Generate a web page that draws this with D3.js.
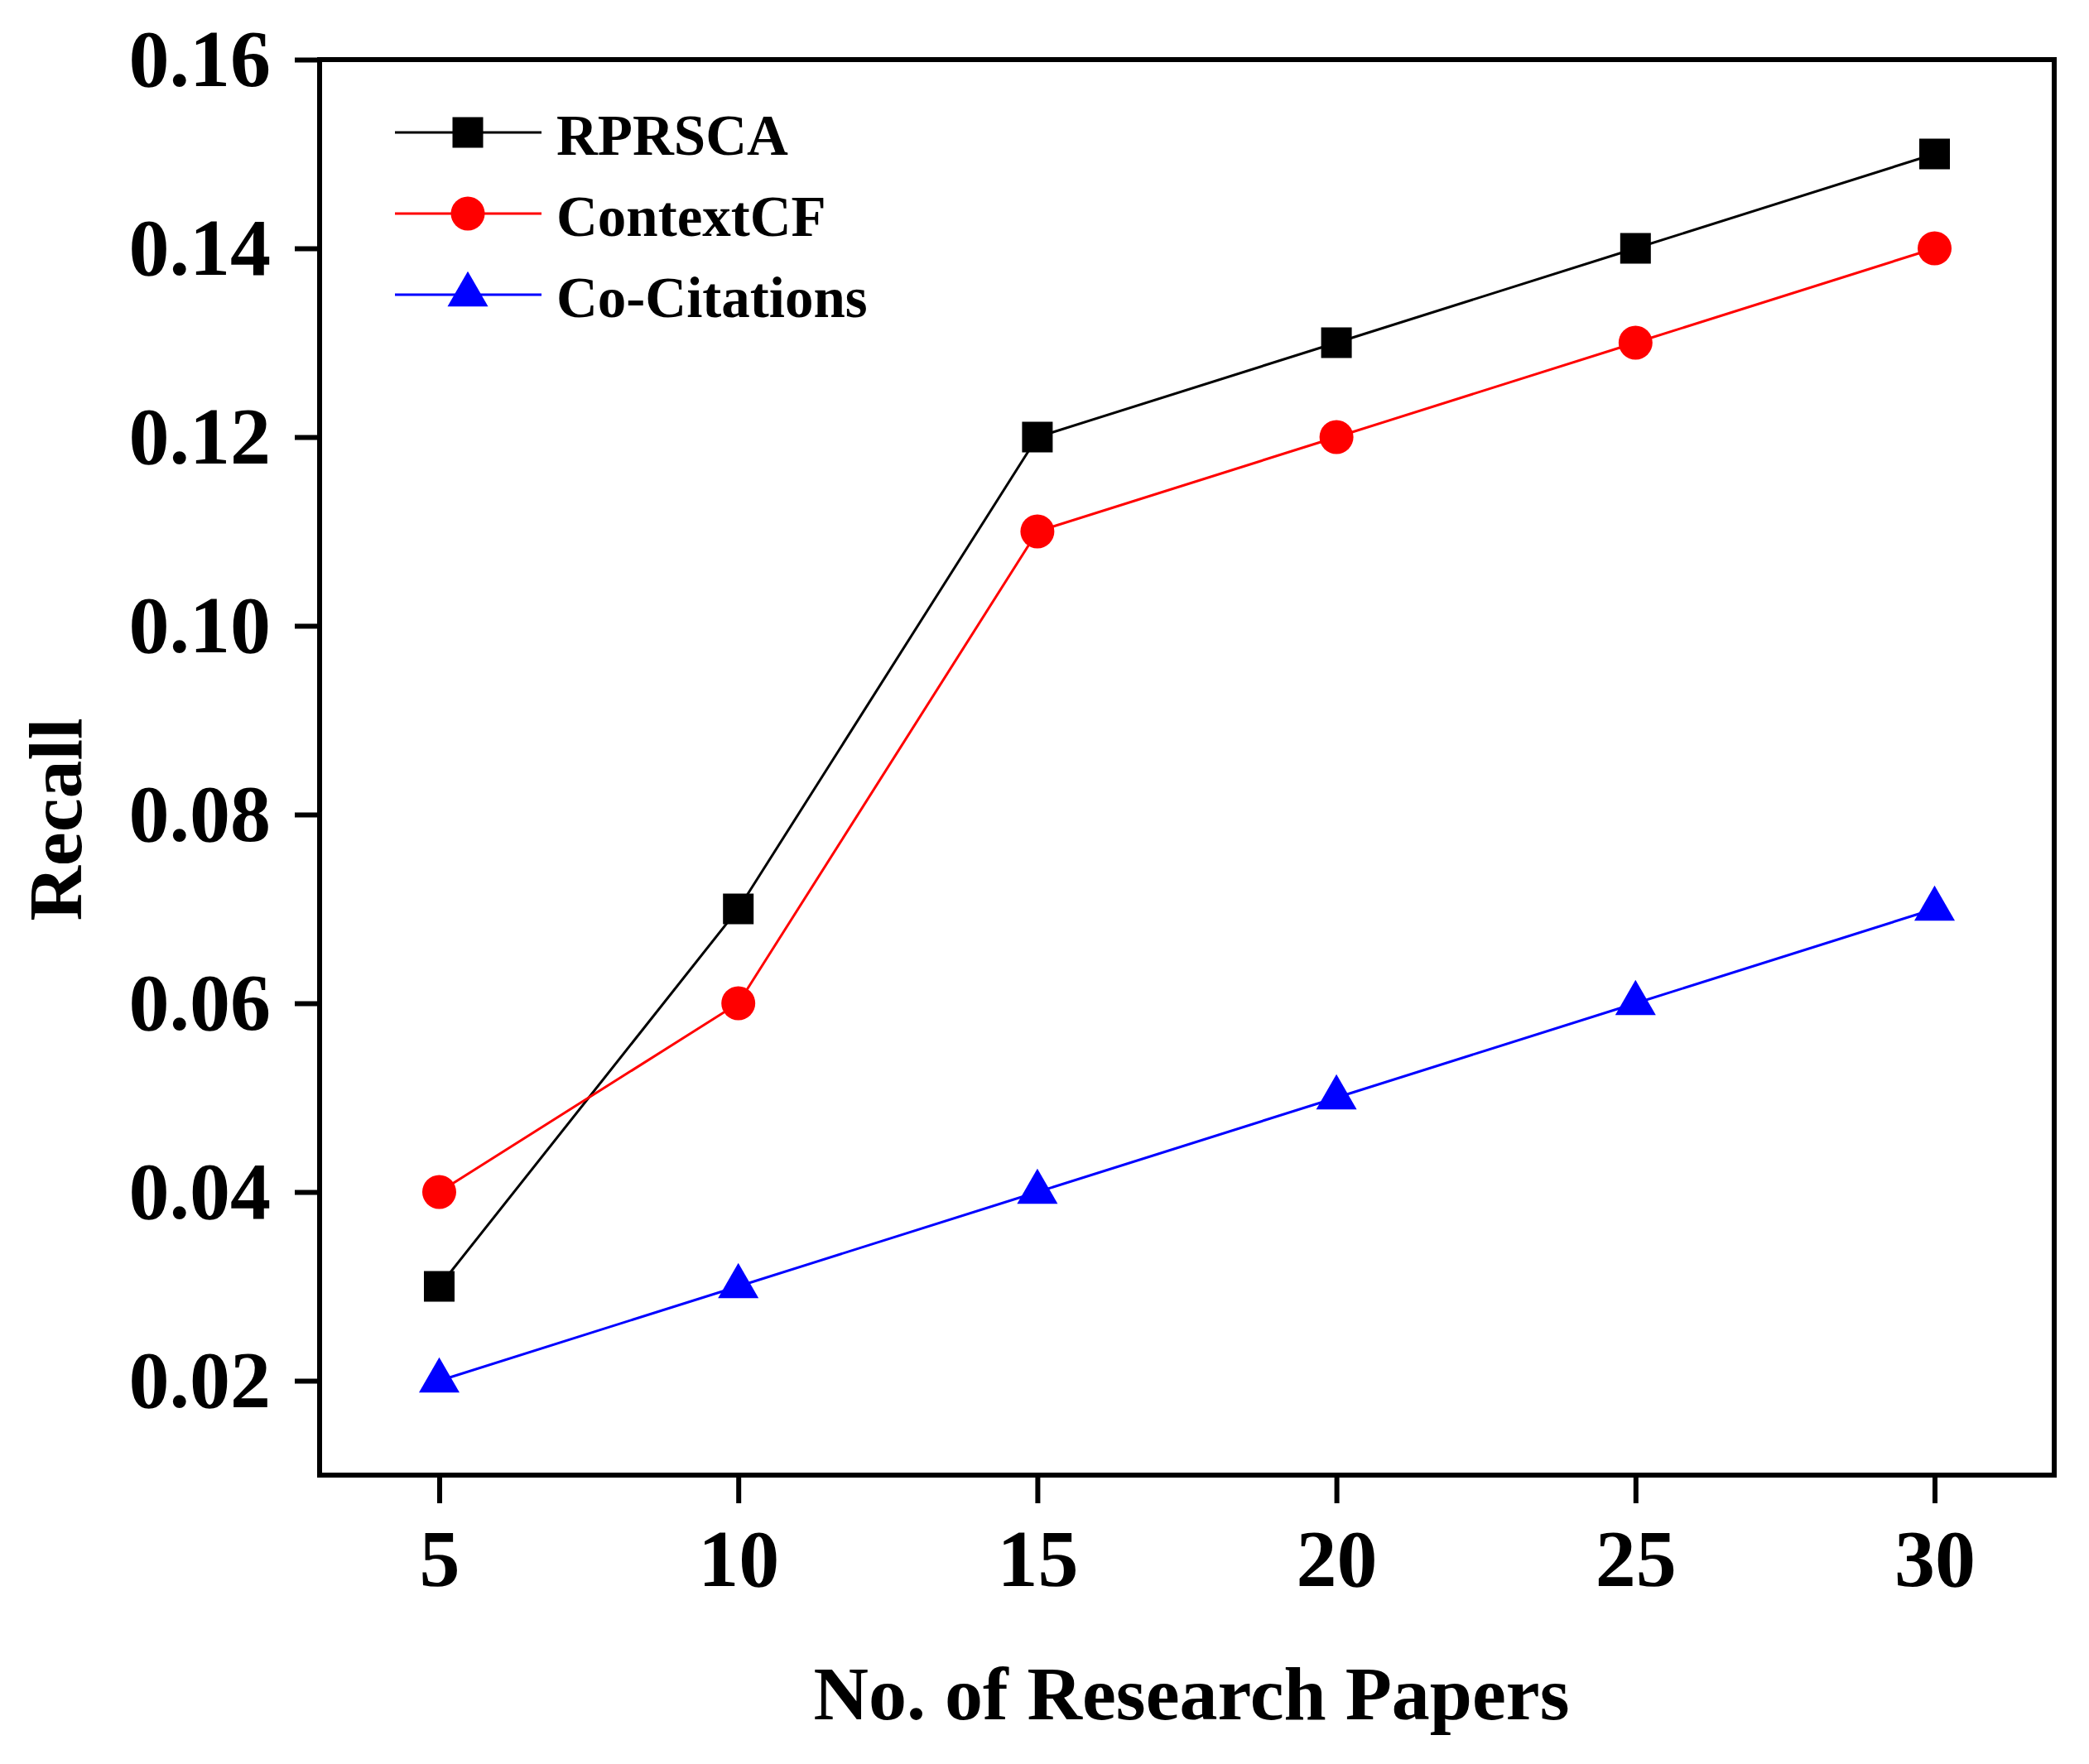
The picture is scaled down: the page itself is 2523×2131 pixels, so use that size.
<!DOCTYPE html>
<html>
<head>
<meta charset="utf-8">
<script src="https://cdn.jsdelivr.net/npm/d3@7"></script>
<style>
  body { margin: 0; background: #fff; }
  text { font-family: "Liberation Serif", "Times New Roman", serif; font-weight: bold; fill: #000; }
</style>
</head>
<body>
<script>
// data
const papers = [5, 10, 15, 20, 25, 30]
const rprsca = [0.03, 0.07, 0.12, 0.13, 0.14, 0.15]
const contextCF = [0.04, 0.06, 0.11, 0.12, 0.13, 0.14]
const coCitations = [0.02, 0.03, 0.04, 0.05, 0.06, 0.07]
const yTicks = [0.02, 0.04, 0.06, 0.08, 0.10, 0.12, 0.14, 0.16]
const seriesNames = ['RPRSCA', 'ContextCF', 'Co-Citations']

const series = [
  { name: seriesNames[0], values: rprsca, color: '#000000', shape: d3.symbolSquare, size: 1369 },
  { name: seriesNames[1], values: contextCF, color: '#ff0000', shape: d3.symbolCircle, size: 1320 },
  { name: seriesNames[2], values: coCitations, color: '#0000ff', shape: d3.symbolTriangle, size: 1040 }
]

const W = 2523, H = 2131
const plot = { left: 386, right: 2481, top: 72, bottom: 1782 }

const svg = d3.select('body').append('svg')
  .attr('width', W)
  .attr('height', H)

const x = d3.scaleLinear().domain([3, 32]).range([plot.left, plot.right])
const y = d3.scaleLinear().domain([0.01, 0.16]).range([plot.bottom, plot.top])

// y axis
const yAxis = svg.append('g')
  .attr('transform', `translate(${plot.left},0)`)
  .call(d3.axisLeft(y).tickValues(yTicks).tickSize(30).tickPadding(29).tickFormat(d3.format('.2f')))
yAxis.select('.domain').remove()
yAxis.selectAll('line').attr('stroke', '#000').attr('stroke-width', 6)
yAxis.selectAll('text').attr('font-size', 98).attr('font-family', null)

// x axis
const xAxis = svg.append('g')
  .attr('transform', `translate(0,${plot.bottom})`)
  .call(d3.axisBottom(x).tickValues(papers).tickSize(34).tickPadding(30))
xAxis.select('.domain').remove()
xAxis.selectAll('line').attr('stroke', '#000').attr('stroke-width', 6)
xAxis.selectAll('text').attr('font-size', 98).attr('font-family', null)

// frame
svg.append('rect')
  .attr('x', plot.left)
  .attr('y', plot.top)
  .attr('width', plot.right - plot.left)
  .attr('height', plot.bottom - plot.top)
  .attr('fill', 'none')
  .attr('stroke', '#000')
  .attr('stroke-width', 6)

// lines + markers
const line = d3.line()
  .x((d, i) => x(papers[i]))
  .y(d => y(d))

series.forEach(s => {
  svg.append('path')
    .attr('d', line(s.values))
    .attr('fill', 'none')
    .attr('stroke', s.color)
    .attr('stroke-width', 3)
})

series.forEach(s => {
  svg.selectAll(null)
    .data(s.values)
    .enter()
    .append('path')
    .attr('d', d3.symbol().type(s.shape).size(s.size))
    .attr('transform', (d, i) => `translate(${x(papers[i])},${y(d)})`)
    .attr('fill', s.color)
})

// legend
const legend = svg.append('g').attr('transform', 'translate(477,160)')
series.forEach((s, i) => {
  const row = legend.append('g').attr('transform', `translate(0,${i * 98})`)
  row.append('line')
    .attr('x1', 0).attr('x2', 177)
    .attr('stroke', s.color)
    .attr('stroke-width', 3)
  row.append('path')
    .attr('d', d3.symbol().type(s.shape).size(s.size))
    .attr('transform', 'translate(88,0)')
    .attr('fill', s.color)
  row.append('text')
    .attr('x', 195)
    .attr('y', 27)
    .attr('font-size', 69)
    .text(s.name)
})

// axis titles
svg.append('text')
  .attr('x', 1439)
  .attr('y', 2077)
  .attr('text-anchor', 'middle')
  .attr('font-size', 92)
  .text('No. of Research Papers')

svg.append('text')
  .attr('transform', 'translate(98,990) rotate(-90)')
  .attr('text-anchor', 'middle')
  .attr('font-size', 92)
  .text('Recall')
</script>
</body>
</html>
